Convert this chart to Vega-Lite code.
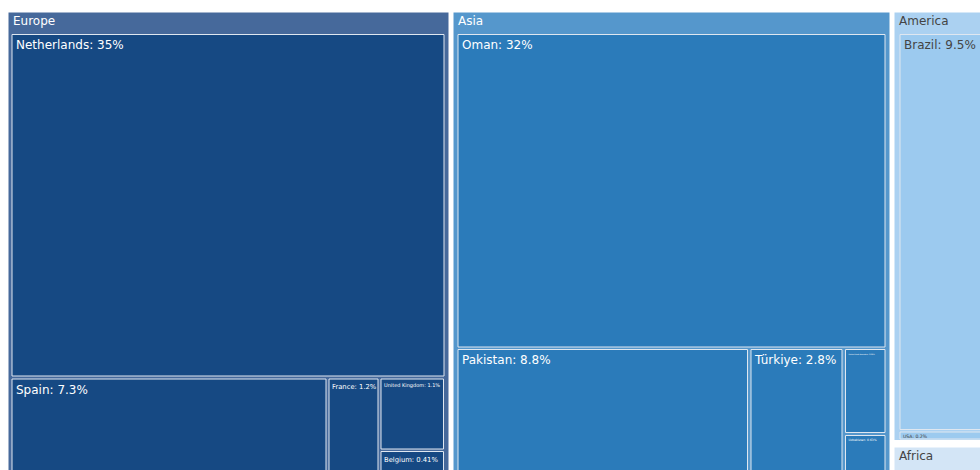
{
  "$schema": "https://vega.github.io/schema/vega-lite/v6.json",
  "autosize": {"type": "fit", "contains": "padding"},
  "width": 980,
  "height": 470,
  "padding": 0,
  "background": "#ffffff",
  "config": {"view": {"stroke": null}, "text": {"font": "DejaVu Sans"}},
  "data": {
    "values": [
      {"name": "Europe", "region": "Europe", "level": "parent", "label": "Europe", "x0": 8, "x1": 449, "y0": 12, "y1": 490},
      {"name": "Asia", "region": "Asia", "level": "parent", "label": "Asia", "x0": 453, "x1": 890, "y0": 12, "y1": 490},
      {"name": "America", "region": "America", "level": "parent", "label": "America", "x0": 894, "x1": 1000, "y0": 12, "y1": 440.5},
      {"name": "Africa", "region": "Africa", "level": "parent", "label": "Africa", "x0": 894, "x1": 1000, "y0": 447, "y1": 490},
      {"name": "Netherlands", "region": "Europe", "level": "leaf", "label": "Netherlands: 35%", "x0": 12, "x1": 444, "y0": 34.5, "y1": 376},
      {"name": "Spain", "region": "Europe", "level": "leaf", "label": "Spain: 7.3%", "x0": 12, "x1": 326, "y0": 379, "y1": 490},
      {"name": "France", "region": "Europe", "level": "leaf", "label": "France: 1.2%", "x0": 329, "x1": 378, "y0": 379, "y1": 490},
      {"name": "United Kingdom", "region": "Europe", "level": "leaf", "label": "United Kingdom: 1.1%", "x0": 381, "x1": 443.5, "y0": 379, "y1": 449},
      {"name": "Belgium", "region": "Europe", "level": "leaf", "label": "Belgium: 0.41%", "x0": 381, "x1": 443.5, "y0": 451.5, "y1": 490},
      {"name": "Oman", "region": "Asia", "level": "leaf", "label": "Oman: 32%", "x0": 458, "x1": 885, "y0": 34.5, "y1": 347},
      {"name": "Pakistan", "region": "Asia", "level": "leaf", "label": "Pakistan: 8.8%", "x0": 458, "x1": 747.5, "y0": 349.5, "y1": 490},
      {"name": "Türkiye", "region": "Asia", "level": "leaf", "label": "Türkiye: 2.8%", "x0": 751, "x1": 842, "y0": 349.5, "y1": 490},
      {"name": "United Arab Emirates", "region": "Asia", "level": "leaf", "label": "United Arab Emirates: 0.98%", "x0": 845.5, "x1": 885, "y0": 349.5, "y1": 432.5},
      {"name": "Uzbekistan", "region": "Asia", "level": "leaf", "label": "Uzbekistan: 0.63%", "x0": 845.5, "x1": 885, "y0": 435.5, "y1": 490},
      {"name": "Brazil", "region": "America", "level": "leaf", "label": "Brazil: 9.5%", "x0": 900, "x1": 1000, "y0": 34.5, "y1": 429.5},
      {"name": "USA", "region": "America", "level": "leaf", "label": "USA: 0.2%", "x0": 900, "x1": 1000, "y0": 432, "y1": 439}
    ]
  },
  "encoding": {
    "x": {"field": "x0", "type": "quantitative", "scale": {"domain": [0, 980], "nice": false, "zero": false}, "axis": null},
    "y": {"field": "y0", "type": "quantitative", "scale": {"domain": [0, 470], "nice": false, "zero": false, "reverse": true}, "axis": null}
  },
  "resolve": {"scale": {"color": "independent"}},
  "layer": [
    {
      "transform": [{"filter": "datum.level === 'parent'"}],
      "mark": {"type": "rect", "clip": true, "stroke": "#ffffff", "strokeWidth": 1},
      "encoding": {
        "x2": {"field": "x1"},
        "y2": {"field": "y1"},
        "color": {"field": "region", "type": "nominal", "legend": null,
          "scale": {"domain": ["Europe", "Asia", "America", "Africa"], "range": ["#46699b", "#5597cc", "#abd1f1", "#d3e5f6"]}}
      }
    },
    {
      "transform": [{"filter": "datum.level === 'leaf'"}],
      "mark": {"type": "rect", "clip": true, "stroke": "#dfe7f0", "strokeWidth": 1},
      "encoding": {
        "x2": {"field": "x1"},
        "y2": {"field": "y1"},
        "color": {"field": "region", "type": "nominal", "legend": null,
          "scale": {"domain": ["Europe", "Asia", "America", "Africa"], "range": ["#164983", "#2b7bba", "#9ccaef", "#d3e5f6"]}}
      }
    },
    {
      "transform": [{"filter": "datum.level === 'parent'"}],
      "mark": {"type": "text", "clip": true, "align": "left", "baseline": "alphabetic", "fontSize": 12, "dx": 5, "dy": 13},
      "encoding": {
        "text": {"field": "label"},
        "color": {"condition": {"test": "datum.region === 'America' || datum.region === 'Africa'", "value": "#444444"}, "value": "#ffffff"}
      }
    },
    {
      "transform": [{"filter": {"field": "name", "oneOf": ["Netherlands", "Spain", "Oman", "Pakistan", "Türkiye", "Brazil"]}}],
      "mark": {"type": "text", "clip": true, "align": "left", "baseline": "alphabetic", "fontSize": 12, "dx": 4, "dy": 14.5},
      "encoding": {
        "text": {"field": "label"},
        "color": {"condition": {"test": "datum.region === 'America' || datum.region === 'Africa'", "value": "#444444"}, "value": "#ffffff"}
      }
    },
    {
      "transform": [{"filter": {"field": "name", "oneOf": ["France", "Belgium"]}}],
      "mark": {"type": "text", "clip": true, "align": "left", "baseline": "alphabetic", "fontSize": 6.8, "dx": 3, "dy": 10, "color": "#ffffff"},
      "encoding": {"text": {"field": "label"}}
    },
    {
      "transform": [{"filter": {"field": "name", "oneOf": ["United Kingdom"]}}],
      "mark": {"type": "text", "clip": true, "align": "left", "baseline": "alphabetic", "fontSize": 5, "dx": 3, "dy": 8, "color": "#ffffff"},
      "encoding": {"text": {"field": "label"}}
    },
    {
      "transform": [{"filter": {"field": "name", "oneOf": ["USA"]}}],
      "mark": {"type": "text", "clip": true, "align": "left", "baseline": "alphabetic", "fontSize": 4.6, "dx": 3, "dy": 5.5, "color": "#444444"},
      "encoding": {"text": {"field": "label"}}
    },
    {
      "transform": [{"filter": {"field": "name", "oneOf": ["Uzbekistan"]}}],
      "mark": {"type": "text", "clip": true, "align": "left", "baseline": "alphabetic", "fontSize": 3, "dx": 3, "dy": 4.8, "color": "#ffffff"},
      "encoding": {"text": {"field": "label"}}
    },
    {
      "transform": [{"filter": {"field": "name", "oneOf": ["United Arab Emirates"]}}],
      "mark": {"type": "text", "clip": true, "align": "left", "baseline": "alphabetic", "fontSize": 1.8, "dx": 3, "dy": 5, "color": "#ffffff"},
      "encoding": {"text": {"field": "label"}}
    }
  ]
}
